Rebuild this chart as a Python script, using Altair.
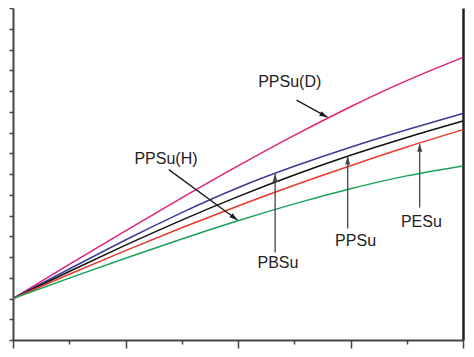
import altair as alt
import pandas as pd

# ---- data ----
x_vals = [0, 1, 2, 3, 4, 5, 6, 7, 8]
series_names = ["PPSu(D)", "PBSu", "PPSu", "PESu", "PPSu(H)"]
ppsu_d = [2.0, 3.64, 5.26, 6.85, 8.39, 9.86, 11.24, 12.50, 13.62]
pbsu = [2.0, 3.42, 4.82, 6.14, 7.34, 8.37, 9.29, 10.13, 10.92]
ppsu = [2.0, 3.30, 4.57, 5.78, 6.91, 7.95, 8.90, 9.76, 10.55]
pesu = [2.0, 3.17, 4.31, 5.41, 6.46, 7.46, 8.40, 9.30, 10.14]
ppsu_h = [2.0, 2.98, 3.94, 4.87, 5.75, 6.56, 7.29, 7.91, 8.39]
series_colors = ["#e2207c", "#3b3b98", "#111111", "#e8392b", "#1aa25a"]

# annotation labels and arrows (data units)
label_text = ["PPSu(D)", "PPSu(H)", "PBSu", "PPSu", "PESu"]
label_x = [4.92, 2.72, 4.71, 6.09, 7.26]
label_y = [12.43, 8.72, 3.72, 4.77, 5.69]
arrow_x = [5.04, 2.77, 4.66, 5.95, 7.23]
arrow_y = [11.56, 8.21, 4.22, 5.37, 6.38]
arrow_x2 = [5.59, 3.99, 4.66, 5.95, 7.23]
arrow_y2 = [10.74, 5.78, 8.00, 8.84, 9.46]
arrow_angle = [118, 127, 0, 0, 0]
arrow_color = ["#1a1a1a", "#1a1a1a", "#444444", "#444444", "#444444"]

# ---- tables ----
rows = []
for name, vals in zip(series_names, [ppsu_d, pbsu, ppsu, pesu, ppsu_h]):
    for xv, yv in zip(x_vals, vals):
        rows.append({"x": xv, "y": yv, "series": name})
lines_df = pd.DataFrame(rows)

labels_df = pd.DataFrame({"x": label_x, "y": label_y, "text": label_text})
arrows_df = pd.DataFrame({
    "x": arrow_x, "y": arrow_y, "x2": arrow_x2, "y2": arrow_y2,
    "angle": arrow_angle, "color": arrow_color,
})

xscale = alt.Scale(domain=[0, 8], nice=False, zero=False)
yscale = alt.Scale(domain=[0, 16], nice=False, zero=False)

axis_col = "#444444"

lines = alt.Chart(lines_df).mark_line(strokeWidth=1.5, interpolate="natural").encode(
    x=alt.X("x:Q", scale=xscale, axis=alt.Axis(
        values=x_vals, labels=False, title=None, grid=False,
        domainColor=axis_col, domainWidth=2, tickColor=axis_col, tickWidth=1.5,
        tickSize={"condition": {"test": "datum.value % 2 === 0", "value": 8}, "value": 4},
    )),
    y=alt.Y("y:Q", scale=yscale, axis=alt.Axis(
        values=list(range(0, 17)), labels=False, title=None, grid=False,
        domainColor=axis_col, domainWidth=2, tickColor=axis_col, tickWidth=1.5, tickSize=4,
    )),
    color=alt.Color("series:N", scale=alt.Scale(domain=series_names, range=series_colors), legend=None),
    detail="series:N",
)

arrows = alt.Chart(arrows_df).mark_rule(strokeWidth=1.3).encode(
    x=alt.X("x:Q", scale=xscale, axis=None),
    y=alt.Y("y:Q", scale=yscale, axis=alt.Axis(
        orient="right", ticks=False, labels=False, title=None, grid=False,
        domainColor="#222222", domainWidth=2.5,
    )),
    x2="x2:Q",
    y2="y2:Q",
    color=alt.Color("color:N", scale=None),
)

heads = alt.Chart(arrows_df).mark_point(
    shape="M0,0 L0.32,1 L-0.32,1 Z", filled=True, size=256, opacity=1, strokeWidth=0
).encode(
    x=alt.X("x2:Q", scale=xscale, axis=None),
    y=alt.Y("y2:Q", scale=yscale, axis=None),
    angle=alt.Angle("angle:Q", scale=None),
    color=alt.Color("color:N", scale=None),
)

labels = alt.Chart(labels_df).mark_text(
    font="Liberation Sans", fontSize=16, color="#222222", align="center", baseline="middle"
).encode(
    x=alt.X("x:Q", scale=xscale, axis=None),
    y=alt.Y("y:Q", scale=yscale, axis=None),
    text="text:N",
)

chart = alt.layer(lines, arrows, heads, labels).resolve_axis(
    y="independent", x="independent"
).properties(
    width=450, height=332,
    autosize=alt.AutoSizeParams(type="none"),
    padding={"left": 5, "top": 0, "right": 2, "bottom": 9},
    background="white",
).configure_view(stroke=None)

chart.save("out.html", embed_options={"renderer": "svg", "actions": False})
